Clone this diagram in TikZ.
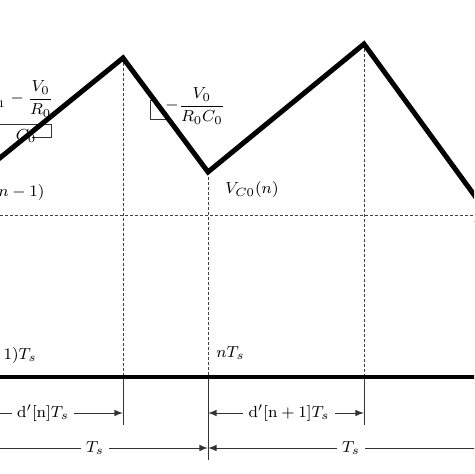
\documentclass[tikz,border=0pt]{standalone}
\usepackage{amsmath}
\usetikzlibrary{arrows}
\tikzset{
  wave/.style={line width=2.5pt,line join=miter},
  guide/.style={black!75,line width=0.5pt,dash pattern=on 1.5pt off 1pt},
  dimline/.style={black!80,line width=0.5pt},
  lbl/.style={inner sep=1pt,font=\footnotesize},
  dimlbl/.style={inner sep=2.5pt,font=\footnotesize},
}

\begin{document}
\begin{tikzpicture}[x=0.5pt,y=-0.5pt]
\useasboundingbox (0,0) rectangle (474,474);
\clip (0,0) rectangle (474,474);
% corners of the capacitor voltage
\coordinate (s0) at (-10,166);
\coordinate (p1) at (123,58);
\coordinate (v1) at (208,172);
\coordinate (p2) at (364,44);
\coordinate (s1) at (480,203);
% time axis marks
\coordinate (t1) at (123,377);
\coordinate (t2) at (208,377);
\coordinate (t3) at (364,377);
\coordinate (r1) at (123,425);
\coordinate (r2) at (208,460);
\coordinate (r3) at (364,425);
%
\draw[guide] (-10,216) -- (490,216);
\draw[guide] (p1) -- (t1);
\draw[guide] (v1) -- (t2);
\draw[guide] (p2) -- (t3);
\draw[dimline] (t1) -- (r1);
\draw[dimline] (t2) -- (r2);
\draw[dimline] (t3) -- (r3);
\draw[line width=2pt] (-10,377) -- (490,377);
% slope marks
\draw[dimline] (32,138) -- (51,138) -- (51,125) -- (-40,125);
\draw[dimline] (155,101) -- (150,101) -- (150,120) -- (169,120);
\draw[wave] (s0) -- (p1) -- (v1) -- (p2) -- (s1);
%
\node (up) [lbl,anchor=base east] at (56,103) {$i_{L_1}-\dfrac{V_0}{R_0}$};
\node (upd) [lbl] at (26,136) {$C_0$};
\node (down) [lbl,anchor=base west] at (163,110) {$-\dfrac{V_0}{R_0C_0}$};
\node (vc0) [lbl,anchor=east] at (47,193) {$V_{C0}(n-1)$};
\node (vc1) [lbl,anchor=west] at (223,190) {$V_{C0}(n)$};
\node (vc2) [lbl,anchor=west] at (471,229) {$V_{C0}(n+1)$};
\node (tn0) [lbl,anchor=east] at (39,355) {$(n-1)T_s$};
\node (tn1) [lbl,anchor=west] at (214,353) {$nT_s$};
%
\node (d1) [dimlbl] at (43,413) {$\mathrm{d}'[\mathrm{n}]T_s$};
\node (d2) [dimlbl] at (289,413) {$\mathrm{d}'[\mathrm{n}+1]T_s$};
\node (ts1) [dimlbl] at (95,448) {$T_s$};
\node (ts2) [dimlbl] at (351,448) {$T_s$};
\draw[dimline] (d1.west) -- ++(-60,0);
\draw[dimline,-latex] (d1.east) -- (d1.east -| r1);
\draw[dimline,-latex] (d2.west) -- (d2.west -| r2);
\draw[dimline,-latex] (d2.east) -- (d2.east -| r3);
\draw[dimline] (ts1.west) -- ++(-120,0);
\draw[dimline,-latex] (ts1.east) -- (ts1.east -| r2);
\draw[dimline,-latex] (ts2.west) -- (ts2.west -| r2);
\draw[dimline] (ts2.east) -- ++(150,0);
\end{tikzpicture}
\end{document}
